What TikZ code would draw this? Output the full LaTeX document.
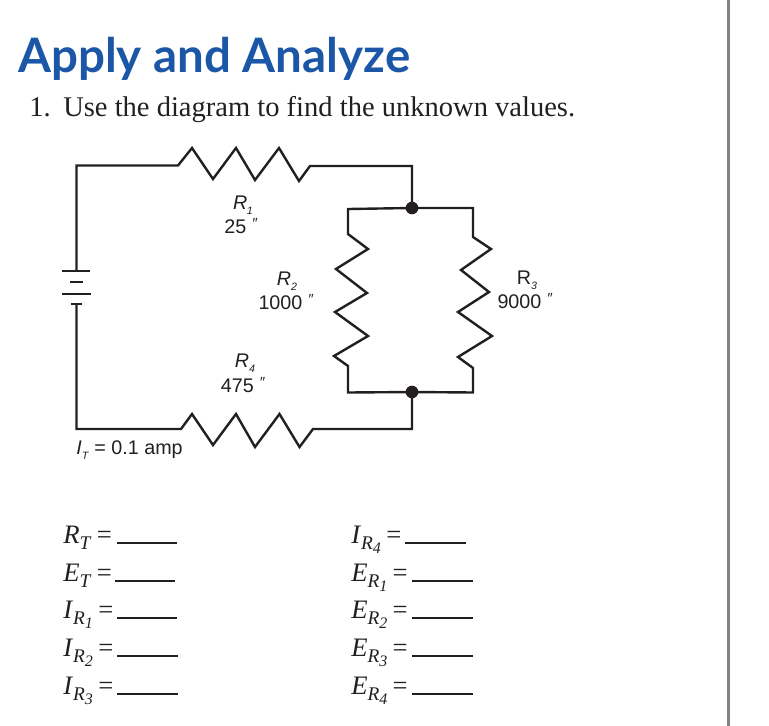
\documentclass[tikz,border=0pt]{standalone}
\usepackage{fontspec}
\setmainfont{Liberation Serif}
\newfontfamily\labelfont{Liberation Sans}
\newfontfamily\titlefont{Lato}
\usetikzlibrary{positioning}
\definecolor{titleblue}{RGB}{27,87,166}
\definecolor{wirecolor}{RGB}{35,31,32}
\definecolor{bargray}{RGB}{128,130,133}
\tikzstyle{wire} = [line width=1.8pt,wirecolor,line join=miter]
\tikzstyle{junction} = [circle,fill=wirecolor,inner sep=0pt,minimum size=9.5pt]
\tikzstyle{vallabel} = [font=\labelfont\fontsize{14.8}{16}\selectfont,text=wirecolor,inner sep=0pt,anchor=base]
\tikzstyle{eqlabel} = [font=\fontsize{20}{22}\selectfont,text=wirecolor,inner sep=0pt,anchor=base west]
\tikzstyle{blank} = [line width=0.8pt,wirecolor]
\newcommand{\low}[1]{\raisebox{-0.55ex}{\fontsize{14.5}{14}\selectfont\textit{#1}}}
\newcommand{\lowlow}[2]{\raisebox{-0.55ex}{\fontsize{14.5}{14}\selectfont\textit{#1}\raisebox{-0.4ex}{\fontsize{12}{11}\selectfont\textit{#2}}}}
\newcommand{\ohms}{\raisebox{0.45ex}{\fontsize{11}{9}\selectfont\textit{\char"2033}}}
\newcommand{\eqsign}{\kern4pt=}
\begin{document}
\begin{tikzpicture}[x=0.75pt,y=-0.75pt]
    \useasboundingbox (0,0) rectangle (769,726);
    % heading
    \node[anchor=base west,inner sep=0pt,font=\titlefont\bfseries\fontsize{35.6}{38}\selectfont,text=titleblue] (title) at (18,72) {Apply and Analyze};
    \node[anchor=base west,inner sep=0pt,font=\fontsize{21.4}{24}\selectfont,text=wirecolor] (num) at (29,116) {1.};
    \node[anchor=base west,inner sep=0pt,font=\fontsize{21.4}{24}\selectfont,text=wirecolor] (task) at (63,116) {Use the diagram to find the unknown values.};
    \draw[line width=2.2pt,bargray] (728.5,0) -- (728.5,726);
    % junctions and battery ends
    \node[junction] (top) at (412,208) {};
    \node[junction] (bot) at (412,392) {};
    \coordinate (battup) at (76.5,271);
    \coordinate (battdown) at (76.5,304);
    % series loop
    \draw[wire] (battup) -- (76.5,165.5) -- (178,165.5) -- (192,148) -- (213,179) -- (236,148) -- (255,180)
        -- (279,148) -- (299,181) -- (310,166) -- (412,166) -- (top.center);
    \draw[wire] (battdown) -- (76.5,429) -- (181,429) -- (192,414) -- (213,445) -- (236,414) -- (255,447)
        -- (279.5,414) -- (299.5,447) -- (313,429) -- (412,429) -- (bot.center);
    % parallel branches
    \draw[wire] (top.center) -- (348,209) -- (348,234) -- (368,249) -- (336,269) -- (367,293) -- (335,312)
        -- (368,336) -- (334,356) -- (348,366) -- (348,392.5) -- (bot.center);
    \draw[wire] (top.center) -- (473,208) -- (473,237) -- (491,249) -- (461,270) -- (489,292) -- (458,312)
        -- (492,336) -- (458,357) -- (473,368) -- (473,392.5) -- (bot.center);
    % battery
    \draw[wire] (62,271) -- (90,271);
    \draw[wire] (70,282) -- (83,282);
    \draw[wire] (62,294) -- (91,294);
    \draw[wire] (71,304) -- (82,304);
    % values
    \node[vallabel] (r1) at (243,209) {\textit{R}\low{\kern-0.5pt\fontsize{8}{8}\selectfont 1}};
    \node[vallabel] (v1) at (241,233) {25 \ohms};
    \node[vallabel] (r2) at (287,285) {\textit{R}\low{\fontsize{8}{8}\selectfont 2}};
    \node[vallabel] (v2) at (286,309) {1000 \ohms};
    \node[vallabel] (r3) at (527,284) {R\low{\fontsize{8}{8}\selectfont 3}};
    \node[vallabel] (v3) at (525,308) {9000 \ohms};
    \node[vallabel] (r4) at (245,367) {\textit{R}\low{\fontsize{8}{8}\selectfont 4}};
    \node[vallabel] (v4) at (243,392) {475 \ohms};
    \node[vallabel,anchor=base west] (it) at (76,454) {\textit{I}\low{\fontsize{8}{8}\selectfont T} = 0.1 amp};
    % unknowns, left column
    \foreach \name/\txt/\ypos/\xa/\xb in {
        rt/{\textit{R}\low{T}}/543/117/177,
        et/{\textit{E}\low{T}}/581/115/175,
        ia/{\textit{I}\lowlow{R}{1}}/618/117/177,
        ib/{\textit{I}\lowlow{R}{2}}/656/117/178,
        ic/{\textit{I}\lowlow{R}{3}}/694/117/178}{
        \node[eqlabel] (\name) at (63,\ypos) {\txt\eqsign};
        \draw[blank] (\xa,\ypos) -- (\xb,\ypos);
    }
    % unknowns, right column
    \foreach \name/\txt/\ypos/\xa/\xb in {
        id/{\textit{I}\lowlow{R}{4}}/543/405/466,
        ea/{\textit{E}\lowlow{R}{1}}/581/412/473,
        eb/{\textit{E}\lowlow{R}{2}}/618/412/473,
        ec/{\textit{E}\lowlow{R}{3}}/656/412/473,
        ed/{\textit{E}\lowlow{R}{4}}/694/412/473}{
        \node[eqlabel] (\name) at (351,\ypos) {\txt\eqsign};
        \draw[blank] (\xa,\ypos) -- (\xb,\ypos);
    }
\end{tikzpicture}
\end{document}
